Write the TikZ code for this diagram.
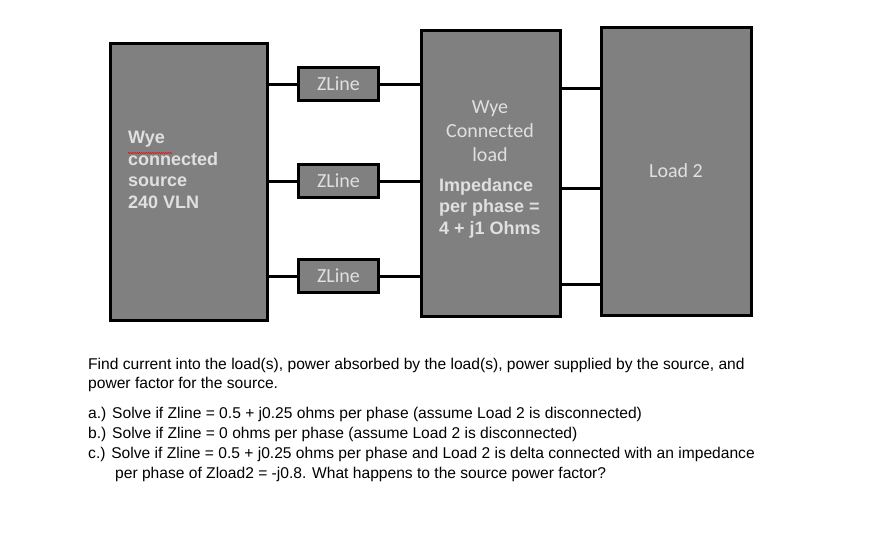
\documentclass[tikz,border=0pt]{standalone}
\usepackage{fontspec}
\setmainfont{Liberation Sans}
\newfontfamily\calfont{Carlito}
\usetikzlibrary{decorations.pathmorphing}
\definecolor{boxgray}{RGB}{128,128,128}
\begin{document}
\begin{tikzpicture}[x=1pt,y=-1pt,
 box/.style={draw=black,line width=3pt,fill=boxgray,inner sep=0pt},
 wire/.style={line width=3pt},
 lbl/.style={text=white!88!black,font=\calfont\fontsize{20}{24}\selectfont,align=center},
 bl/.style={text=white!88!black,font=\bfseries\fontsize{18}{21.5}\selectfont,align=left},
 txt/.style={anchor=base west,inner sep=0pt,font=\fontsize{15.6}{18}\selectfont}]
\useasboundingbox (0,0) rectangle (877,558);
\fill[white] (0,0) rectangle (877,558);
\node[box,minimum width=157,minimum height=277] (src) at (188.5,181.5) {};
\node[box,minimum width=139,minimum height=286] (l1) at (490.5,173) {};
\node[box,minimum width=150,minimum height=288] (l2) at (676,171) {};
\node[box,minimum width=80,minimum height=33] (z1) at (338.5,84) {};
\node[box,minimum width=80,minimum height=33] (z2) at (338.5,181) {};
\node[box,minimum width=80,minimum height=33] (z3) at (338.5,276) {};
\node[lbl] at (z1) {ZLine};
\node[lbl] at (z2) {ZLine};
\node[lbl] at (z3) {ZLine};
\draw[wire] (src.east|-z1) -- (z1.west);
\draw[wire] (src.east|-z2) -- (z2.west);
\draw[wire] (src.east|-z3) -- (z3.west);
\draw[wire] (z1.east) -- (l1.west|-z1);
\draw[wire] (z2.east) -- (l1.west|-z2);
\draw[wire] (z3.east) -- (l1.west|-z3);
\coordinate (a) at (0,88);\coordinate (b) at (0,188);\coordinate (c) at (0,284);
\draw[wire] (l1.east|-a) -- (l2.west|-a);
\draw[wire] (l1.east|-b) -- (l2.west|-b);
\draw[wire] (l1.east|-c) -- (l2.west|-c);
\node[bl,anchor=north west,inner sep=0pt] (st) at (128,131) {Wye\\connected\\source\\240 VLN};
\coordinate (u1) at (128,153); \coordinate (u2) at (172,153);
\draw[red,decorate,decoration={zigzag,amplitude=0.7,segment length=2.2}] (u1) -- (u2);
\node[lbl,anchor=north,inner sep=0pt] (lt) at (490,100) {Wye\\Connected\\load};
\node[bl,anchor=north west,inner sep=0pt] (it) at (439,178) {Impedance\\per phase =\\4 + j1 Ohms};
\node[lbl] (l2t) at (l2) {Load 2};
\node[txt] (t1) at (88,369) {Find current into the load(s), power absorbed by the load(s), power supplied by the source, and};
\node[txt] (t2) at (88,388) {power factor for the source.};
\node[txt] (t3) at (88,418) {a.) Solve if Zline = 0.5 + j0.25 ohms per phase (assume Load 2 is disconnected)};
\node[txt] (t4) at (88,438) {b.) Solve if Zline = 0 ohms per phase (assume Load 2 is disconnected)};
\node[txt] (t5) at (88,458) {c.) Solve if Zline = 0.5 + j0.25 ohms per phase and Load 2 is delta connected with an impedance};
\node[txt] (t6) at (115,478) {per phase of Zload2 = -j0.8. What happens to the source power factor?};
\end{tikzpicture}
\end{document}
